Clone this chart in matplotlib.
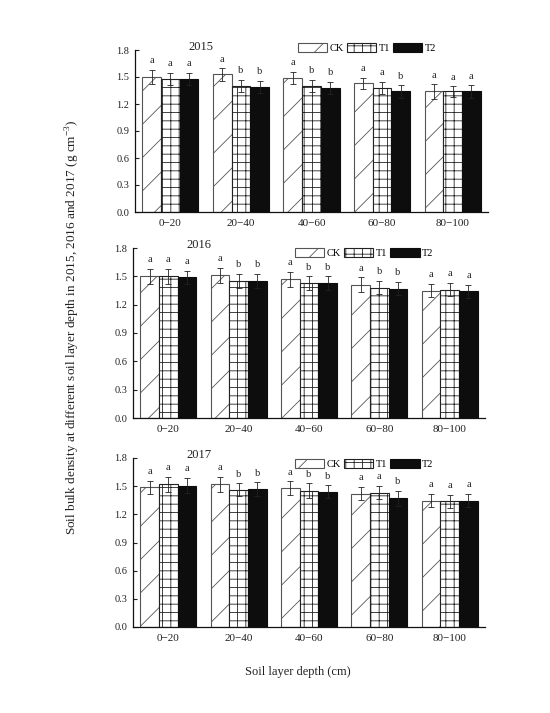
import matplotlib
matplotlib.use("Agg")
import matplotlib.pyplot as plt
import numpy as np
from matplotlib.patches import Patch

plt.rcParams['font.family'] = ['Liberation Serif', 'DejaVu Serif']
plt.rcParams['hatch.linewidth'] = 0.6
plt.rcParams['mathtext.fontset'] = 'custom'
plt.rcParams['mathtext.rm'] = 'Liberation Serif'

depths = ["0\u221220", "20\u221240", "40\u221260", "60\u221280", "80\u2212100"]
treatments = ["CK", "T1", "T2"]
years = ["2015", "2016", "2017"]

# mean bulk density [year][treatment][depth]
means_2015 = {"CK": [1.50, 1.53, 1.49, 1.43, 1.34],
              "T1": [1.48, 1.40, 1.40, 1.38, 1.34],
              "T2": [1.48, 1.39, 1.38, 1.34, 1.34]}
err_2015 = {"CK": [0.08, 0.07, 0.07, 0.06, 0.08],
            "T1": [0.07, 0.07, 0.07, 0.07, 0.06],
            "T2": [0.07, 0.07, 0.07, 0.07, 0.07]}
letters_2015 = {"CK": ["a", "a", "a", "a", "a"],
                "T1": ["a", "b", "b", "a", "a"],
                "T2": ["a", "b", "b", "b", "a"]}

means_2016 = {"CK": [1.50, 1.51, 1.47, 1.41, 1.35],
              "T1": [1.50, 1.45, 1.43, 1.38, 1.36],
              "T2": [1.49, 1.45, 1.43, 1.37, 1.34]}
err_2016 = {"CK": [0.08, 0.08, 0.08, 0.08, 0.07],
            "T1": [0.08, 0.075, 0.07, 0.07, 0.07],
            "T2": [0.07, 0.075, 0.07, 0.07, 0.07]}
letters_2016 = {"CK": ["a", "a", "a", "a", "a"],
                "T1": ["a", "b", "b", "b", "a"],
                "T2": ["a", "b", "b", "b", "a"]}

means_2017 = {"CK": [1.49, 1.52, 1.48, 1.42, 1.345],
              "T1": [1.52, 1.46, 1.45, 1.43, 1.34],
              "T2": [1.505, 1.47, 1.44, 1.37, 1.345]}
err_2017 = {"CK": [0.07, 0.08, 0.07, 0.07, 0.07],
            "T1": [0.08, 0.07, 0.08, 0.07, 0.07],
            "T2": [0.08, 0.07, 0.07, 0.08, 0.07]}
letters_2017 = {"CK": ["a", "a", "a", "a", "a"],
                "T1": ["a", "b", "b", "a", "a"],
                "T2": ["a", "b", "b", "b", "a"]}

all_means = [means_2015, means_2016, means_2017]
all_errs = [err_2015, err_2016, err_2017]
all_letters = [letters_2015, letters_2016, letters_2017]

styles = {"CK": dict(facecolor="white", hatch="/", edgecolor="#555555"),
          "T1": dict(facecolor="white", hatch="++", edgecolor="#222222"),
          "T2": dict(facecolor="#0d0d0d", hatch=None, edgecolor="#0d0d0d")}

fig = plt.figure(figsize=(5.5, 7.13), dpi=100)
W, H = 550, 713
# axes rectangles in pixels: left, top, right, bottom
rects = [(135, 50, 488, 212), (133, 248, 485, 418), (133, 458, 485, 627)]
legend_y = [1.01, 0.97, 0.965]

x = np.arange(len(depths))
bw = 0.265
for i, (l, t, r, b) in enumerate(rects):
    ax = fig.add_axes([l / W, 1 - b / H, (r - l) / W, (b - t) / H])
    for j, tr in enumerate(treatments):
        xs = x + (j - 1) * bw
        st = styles[tr]
        ax.bar(xs, all_means[i][tr], width=bw, facecolor=st["facecolor"],
               hatch=st["hatch"], edgecolor=st["edgecolor"], linewidth=0.8,
               label=tr, zorder=2)
        ax.errorbar(xs, all_means[i][tr], yerr=all_errs[i][tr], fmt='none',
                    ecolor="#222222", elinewidth=0.6, capsize=2.2, capthick=0.6,
                    zorder=3)
        for k in range(len(depths)):
            ax.text(xs[k], all_means[i][tr][k] + all_errs[i][tr][k] + 0.05,
                    all_letters[i][tr][k], ha="center", va="bottom",
                    fontsize=7.5, color="#222222")
    ax.set_xlim(-0.5, len(depths) - 0.5)
    ax.set_ylim(0, 1.8)
    ax.set_yticks(np.arange(0, 1.81, 0.3))
    ax.set_yticklabels([f"{v:.1f}" for v in np.arange(0, 1.81, 0.3)])
    ax.set_xticks(x)
    ax.set_xticklabels(depths)
    ax.spines["top"].set_visible(False)
    ax.spines["right"].set_visible(False)
    for s in ["left", "bottom"]:
        ax.spines[s].set_linewidth(0.9)
        ax.spines[s].set_color("#111111")
    ax.tick_params(axis="y", direction="in", length=3, width=0.8,
                   labelsize=7.5, pad=4, colors="#222222")
    ax.tick_params(axis="x", length=0, labelsize=8, pad=5, colors="#222222")
    ax.text(0.187, 1.02, years[i], transform=ax.transAxes, ha="center",
            va="center", fontsize=9, color="#222222")
    handles = [Patch(facecolor=styles[tr]["facecolor"], hatch=styles[tr]["hatch"],
                     edgecolor=styles[tr]["edgecolor"], linewidth=0.8, label=tr)
               for tr in treatments]
    ax.legend(handles=handles, loc="center", bbox_to_anchor=(0.657, legend_y[i]),
              ncol=3, frameon=False, fontsize=7.5, handlelength=2.8,
              handleheight=0.9, handletextpad=0.25, columnspacing=0.3,
              borderpad=0.1)

fig.text(73 / W, 1 - 327 / H,
         "Soil bulk density at different soil layer depth in 2015, 2016 and 2017 (g cm$^{-3}$)",
         rotation=90, ha="center", va="center", fontsize=9.5, color="#222222")
fig.text(298 / W, 1 - 672 / H, "Soil layer depth (cm)", ha="center", va="center",
         fontsize=9, color="#222222")

fig.savefig("out.png", dpi=100, facecolor="white")
